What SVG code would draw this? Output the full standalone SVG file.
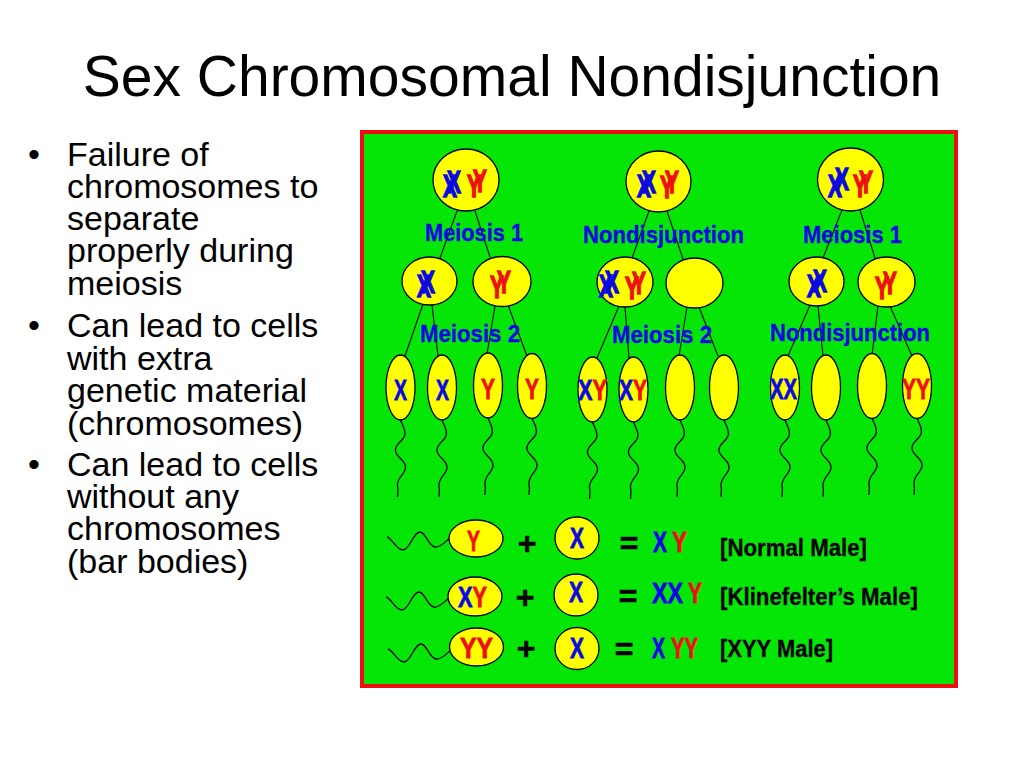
<svg xmlns="http://www.w3.org/2000/svg" xmlns:xlink="http://www.w3.org/1999/xlink" width="1024" height="768" viewBox="0 0 1024 768">
<style>
.title{font-family:"Liberation Sans",Arial,sans-serif;font-size:57px;fill:#000}
.bul{font-family:"Liberation Sans",Arial,sans-serif;font-size:34px;fill:#000}
.lbl{font-family:"Liberation Sans",Arial,sans-serif;font-size:24px;font-weight:bold;fill:#0a0ae0;stroke:#0a0ae0;stroke-width:0.4}
.chr{font-family:"Liberation Sans",Arial,sans-serif;font-size:32px;font-weight:bold;stroke-width:1.6}
.b{fill:#0a0ae0;stroke:#0a0ae0}
.r{fill:#ee1010;stroke:#ee1010}
.sx{font-family:"Liberation Sans",Arial,sans-serif;font-size:30px;font-weight:bold;fill:#0a0ae0;stroke:#0a0ae0;stroke-width:0.8}
.sy{font-family:"Liberation Sans",Arial,sans-serif;font-size:30px;font-weight:bold;fill:#ee1010;stroke:#ee1010;stroke-width:0.8}
.op{font-family:"Liberation Sans",Arial,sans-serif;font-size:32px;font-weight:bold;fill:#000;stroke:#000;stroke-width:0.6}
.res{font-family:"Liberation Sans",Arial,sans-serif;font-size:23px;font-weight:bold;fill:#000;stroke:#000;stroke-width:0.3}
.cell{fill:#ffff00;stroke:#000;stroke-width:1.3}
.ln{stroke:#000;stroke-width:1.1;fill:none}
.tail{stroke:#000;stroke-width:1.3;fill:none}
</style>
<defs>
<path id="vtail" d="M0,0 C2,6 6,10 4,16 C2,22 -6,24 -5,31 C-4,38 6,40 5,48 C4,55 -4,58 -3,66 C-2,70 -3,74 -3,77"/>
<path id="htail" d="M0,0 C-5,4 -10,10 -15,9 C-22,8 -24,-6 -30,-6 C-37,-6 -40,12 -47,12 C-54,12 -58,0 -63,-1"/>
</defs>
<rect width="1024" height="768" fill="#fff"/>
<text class="title" x="512" y="96" text-anchor="middle">Sex Chromosomal Nondisjunction</text>
<g id="bullets">
<text class="bul" x="28" y="166">•</text>
<text class="bul" x="67" y="166">Failure of</text>
<text class="bul" x="67" y="198">chromosomes to</text>
<text class="bul" x="67" y="230">separate</text>
<text class="bul" x="67" y="262">properly during</text>
<text class="bul" x="67" y="295">meiosis</text>
<text class="bul" x="28" y="337">•</text>
<text class="bul" x="67" y="337">Can lead to cells</text>
<text class="bul" x="67" y="370">with extra</text>
<text class="bul" x="67" y="402">genetic material</text>
<text class="bul" x="67" y="435">(chromosomes)</text>
<text class="bul" x="28" y="476">•</text>
<text class="bul" x="67" y="476">Can lead to cells</text>
<text class="bul" x="67" y="508">without any</text>
<text class="bul" x="67" y="540">chromosomes</text>
<text class="bul" x="67" y="573">(bar bodies)</text>
</g>
<rect id="panel" x="362" y="132" width="594" height="554" fill="#06e606" stroke="#ee1010" stroke-width="4"/>
<g id="connectors">
<line class="ln" x1="457" y1="211" x2="440" y2="258"/>
<line class="ln" x1="475" y1="211" x2="490" y2="257"/>
<line class="ln" x1="423" y1="304" x2="405" y2="356"/>
<line class="ln" x1="432" y1="305" x2="438" y2="356"/>
<line class="ln" x1="495" y1="306" x2="487" y2="354"/>
<line class="ln" x1="508" y1="305" x2="527" y2="356"/>
<line class="ln" x1="649" y1="211" x2="632" y2="258"/>
<line class="ln" x1="667" y1="211" x2="683" y2="259"/>
<line class="ln" x1="619" y1="306" x2="597" y2="358"/>
<line class="ln" x1="625" y1="307" x2="629" y2="358"/>
<line class="ln" x1="687" y1="307" x2="679" y2="356"/>
<line class="ln" x1="699" y1="307" x2="718" y2="356"/>
<line class="ln" x1="842" y1="210" x2="823" y2="258"/>
<line class="ln" x1="860" y1="210" x2="875" y2="258"/>
<line class="ln" x1="810" y1="305" x2="788" y2="356"/>
<line class="ln" x1="818" y1="306" x2="823" y2="356"/>
<line class="ln" x1="878" y1="306" x2="872" y2="355"/>
<line class="ln" x1="890" y1="306" x2="912" y2="356"/>
</g>
<g id="labels">
<text class="lbl" x="425" y="241" textLength="98" lengthAdjust="spacingAndGlyphs">Meiosis 1</text>
<text class="lbl" x="583" y="243" textLength="161" lengthAdjust="spacingAndGlyphs">Nondisjunction</text>
<text class="lbl" x="803" y="243" textLength="99" lengthAdjust="spacingAndGlyphs">Meiosis 1</text>
<text class="lbl" x="420" y="342" textLength="100" lengthAdjust="spacingAndGlyphs">Meiosis 2</text>
<text class="lbl" x="612" y="343" textLength="100" lengthAdjust="spacingAndGlyphs">Meiosis 2</text>
<text class="lbl" x="770" y="341" textLength="160" lengthAdjust="spacingAndGlyphs">Nondisjunction</text>
</g>
<g id="cell-left-top">
<ellipse class="cell" cx="466" cy="180" rx="33" ry="31"/>
<text class="chr" transform="translate(443,0) scale(0.65,1)"><tspan class="b" x="0" y="197">X</tspan><tspan class="b" x="6.2" y="193">X</tspan><tspan class="r" x="36.9" y="197">Y</tspan><tspan class="r" x="46.2" y="192">Y</tspan></text>
</g>
<g id="cell-left-x">
<ellipse class="cell" cx="429.5" cy="281" rx="27.5" ry="24"/>
<text class="chr" transform="translate(417,0) scale(0.65,1)"><tspan class="b" x="0" y="297">X</tspan><tspan class="b" x="6.2" y="293">X</tspan></text>
</g>
<g id="cell-left-y">
<ellipse class="cell" cx="502" cy="281.5" rx="29" ry="25"/>
<text class="chr" transform="translate(490,0) scale(0.65,1)"><tspan class="r" x="0" y="298">Y</tspan><tspan class="r" x="10.8" y="293">Y</tspan></text>
</g>
<g id="cell-mid-top">
<ellipse class="cell" cx="658.5" cy="181.5" rx="32.5" ry="30.5"/>
<text class="chr" transform="translate(637,0) scale(0.65,1)"><tspan class="b" x="0" y="197">X</tspan><tspan class="b" x="7.7" y="193">X</tspan><tspan class="r" x="35.4" y="198">Y</tspan><tspan class="r" x="43.1" y="193">Y</tspan></text>
</g>
<g id="cell-mid-xy">
<ellipse class="cell" cx="625" cy="282" rx="28" ry="25"/>
<text class="chr" transform="translate(599,0) scale(0.65,1)"><tspan class="b" x="0" y="297">X</tspan><tspan class="b" x="9.2" y="293">X</tspan><tspan class="r" x="40" y="299">Y</tspan><tspan class="r" x="50.8" y="294">Y</tspan></text>
</g>
<g id="cell-mid-empty">
<ellipse class="cell" cx="694.5" cy="283" rx="28.5" ry="25"/>
</g>
<g id="cell-right-top">
<ellipse class="cell" cx="850.5" cy="179.5" rx="33" ry="31.5"/>
<text class="chr" transform="translate(828,0) scale(0.65,1)"><tspan class="b" x="0" y="197">X</tspan><tspan class="b" x="10.8" y="190">X</tspan><tspan class="r" x="38.5" y="197">Y</tspan><tspan class="r" x="47.7" y="193">Y</tspan></text>
</g>
<g id="cell-right-x">
<ellipse class="cell" cx="816.5" cy="281.5" rx="27.5" ry="24.5"/>
<text class="chr" transform="translate(807,0) scale(0.65,1)"><tspan class="b" x="0" y="297">X</tspan><tspan class="b" x="9.2" y="292">X</tspan></text>
</g>
<g id="cell-right-y">
<ellipse class="cell" cx="886.5" cy="282" rx="28.5" ry="25"/>
<text class="chr" transform="translate(875,0) scale(0.65,1)"><tspan class="r" x="0" y="299">Y</tspan><tspan class="r" x="12.3" y="294">Y</tspan></text>
</g>
<g id="sperm-1"><use href="#vtail" xlink:href="#vtail" class="tail" transform="translate(400.5,420)"/><ellipse class="cell" cx="400.5" cy="387.5" rx="14.5" ry="32.5"/><text class="sx" x="394" y="400" textLength="13" lengthAdjust="spacingAndGlyphs">X</text></g>
<g id="sperm-2"><use href="#vtail" xlink:href="#vtail" class="tail" transform="translate(442,420)"/><ellipse class="cell" cx="442" cy="387.5" rx="14.5" ry="32.5"/><text class="sx" x="436" y="400" textLength="13" lengthAdjust="spacingAndGlyphs">X</text></g>
<g id="sperm-3"><use href="#vtail" xlink:href="#vtail" class="tail" transform="translate(488,418)"/><ellipse class="cell" cx="488" cy="385.5" rx="14.5" ry="32.5"/><text class="sy" x="481" y="399" textLength="14" lengthAdjust="spacingAndGlyphs">Y</text></g>
<g id="sperm-4"><use href="#vtail" xlink:href="#vtail" class="tail" transform="translate(532,418)"/><ellipse class="cell" cx="532" cy="386" rx="14.5" ry="32.5"/><text class="sy" x="525" y="399" textLength="14" lengthAdjust="spacingAndGlyphs">Y</text></g>
<g id="sperm-5"><use href="#vtail" xlink:href="#vtail" class="tail" transform="translate(592.5,422)"/><ellipse class="cell" cx="592.5" cy="389.5" rx="14.5" ry="32.5"/><text class="sx" x="578" y="400" textLength="29" lengthAdjust="spacingAndGlyphs">X<tspan class="r">Y</tspan></text></g>
<g id="sperm-6"><use href="#vtail" xlink:href="#vtail" class="tail" transform="translate(633.5,422)"/><ellipse class="cell" cx="633.5" cy="389.5" rx="14.5" ry="32.5"/><text class="sx" x="619" y="400" textLength="28" lengthAdjust="spacingAndGlyphs">X<tspan class="r">Y</tspan></text></g>
<g id="sperm-7"><use href="#vtail" xlink:href="#vtail" class="tail" transform="translate(680,420)"/><ellipse class="cell" cx="680" cy="387.5" rx="14.5" ry="32.5"/></g>
<g id="sperm-8"><use href="#vtail" xlink:href="#vtail" class="tail" transform="translate(724,420)"/><ellipse class="cell" cx="724" cy="387.5" rx="14.5" ry="32.5"/></g>
<g id="sperm-9"><use href="#vtail" xlink:href="#vtail" class="tail" transform="translate(785,420)"/><ellipse class="cell" cx="785" cy="387.5" rx="14.5" ry="32.5"/><text class="sx" x="770" y="399" textLength="27" lengthAdjust="spacingAndGlyphs">XX</text></g>
<g id="sperm-10"><use href="#vtail" xlink:href="#vtail" class="tail" transform="translate(826,420)"/><ellipse class="cell" cx="826" cy="387.5" rx="14.5" ry="32.5"/></g>
<g id="sperm-11"><use href="#vtail" xlink:href="#vtail" class="tail" transform="translate(872,418)"/><ellipse class="cell" cx="872" cy="386" rx="14.5" ry="32.5"/></g>
<g id="sperm-12"><use href="#vtail" xlink:href="#vtail" class="tail" transform="translate(917,418)"/><ellipse class="cell" cx="917" cy="386" rx="14.5" ry="32.5"/><text class="sy" x="902" y="399" textLength="28" lengthAdjust="spacingAndGlyphs">YY</text></g>
<g id="row-1">
<use href="#htail" xlink:href="#htail" class="tail" transform="translate(450,538)"/>
<ellipse class="cell" cx="476" cy="538.5" rx="27" ry="18.5"/>
<text class="sy" x="467" y="551" textLength="13" lengthAdjust="spacingAndGlyphs">Y</text>
<text class="op" x="527" y="554" text-anchor="middle">+</text>
<ellipse class="cell" cx="577" cy="538" rx="22" ry="21"/>
<text class="sx" x="570" y="548" textLength="14" lengthAdjust="spacingAndGlyphs">X</text>
<text class="op" x="629" y="554" text-anchor="middle">=</text>
<text class="sx" x="653" y="552" textLength="14" lengthAdjust="spacingAndGlyphs">X</text>
<text class="sy" x="672" y="552" textLength="15" lengthAdjust="spacingAndGlyphs">Y</text>
<text class="res" x="720" y="556" textLength="147" lengthAdjust="spacingAndGlyphs">[Normal Male]</text>
</g>
<g id="row-2">
<use href="#htail" xlink:href="#htail" class="tail" transform="translate(449,598)"/>
<ellipse class="cell" cx="475" cy="596.5" rx="27" ry="19.5"/>
<text class="sx" x="458" y="607" textLength="29" lengthAdjust="spacingAndGlyphs">X<tspan class="r">Y</tspan></text>
<text class="op" x="525" y="608" text-anchor="middle">+</text>
<ellipse class="cell" cx="576" cy="595" rx="22" ry="21"/>
<text class="sx" x="569" y="602" textLength="14" lengthAdjust="spacingAndGlyphs">X</text>
<text class="op" x="628" y="607" text-anchor="middle">=</text>
<text class="sx" x="652" y="603" textLength="31" lengthAdjust="spacingAndGlyphs">XX</text>
<text class="sy" x="688" y="603" textLength="14" lengthAdjust="spacingAndGlyphs">Y</text>
<text class="res" x="720" y="605" textLength="198" lengthAdjust="spacingAndGlyphs">[Klinefelter’s Male]</text>
</g>
<g id="row-3">
<use href="#htail" xlink:href="#htail" class="tail" transform="translate(451,650)"/>
<ellipse class="cell" cx="476.5" cy="647" rx="27" ry="19"/>
<text class="sy" x="460" y="658" textLength="33" lengthAdjust="spacingAndGlyphs">YY</text>
<text class="op" x="526" y="659" text-anchor="middle">+</text>
<ellipse class="cell" cx="577" cy="648.5" rx="22" ry="21"/>
<text class="sx" x="570" y="658" textLength="14" lengthAdjust="spacingAndGlyphs">X</text>
<text class="op" x="624" y="660" text-anchor="middle">=</text>
<text class="sx" x="652" y="658" textLength="13" lengthAdjust="spacingAndGlyphs">X</text>
<text class="sy" x="671" y="658" textLength="27" lengthAdjust="spacingAndGlyphs">YY</text>
<text class="res" x="720" y="657" textLength="113" lengthAdjust="spacingAndGlyphs">[XYY Male]</text>
</g>
</svg>
